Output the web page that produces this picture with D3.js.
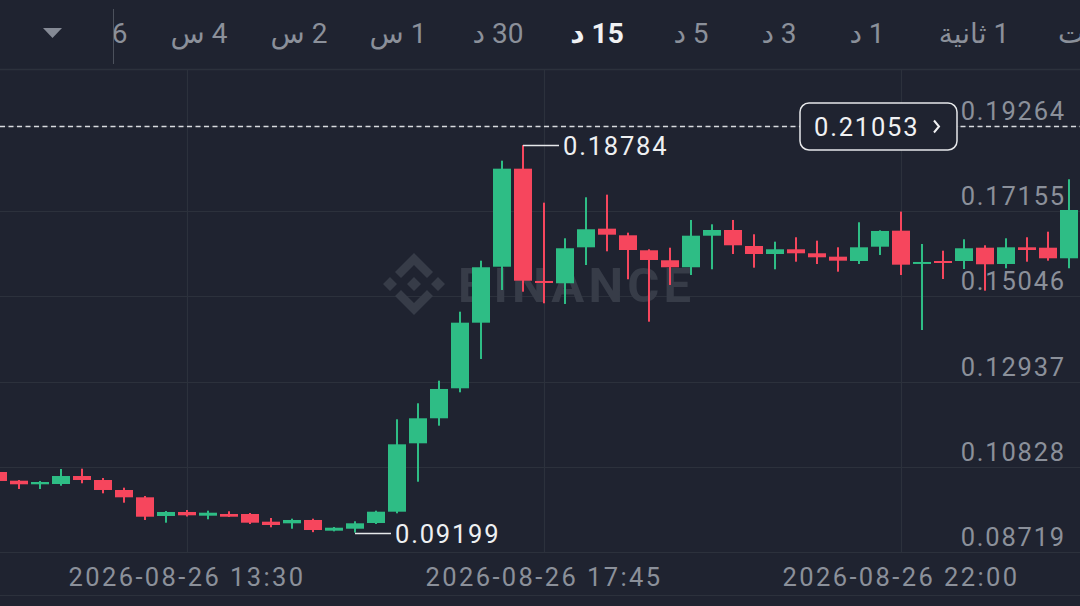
<!DOCTYPE html>
<html>
<head>
<meta charset="utf-8">
<script src="https://cdn.jsdelivr.net/npm/d3@7"></script>
<style>
  html, body { margin: 0; padding: 0; background: #1f2330; overflow: hidden; }
  #wrap { position: relative; width: 1080px; height: 606px; }
  #wrap svg { position: absolute; left: 0; top: 0; }
  #tabs { position: absolute; left: 114px; top: 0; width: 966px; height: 68px; overflow: hidden; }
  .tab { position: absolute; top: 16px; font: 400 28px Roboto, "DejaVu Sans", sans-serif;
         color: #8b909a; white-space: nowrap; line-height: 36px; }
  .tab.on { color: #f0f1f3; font-weight: 700; }
</style>
</head>
<body>
<div id="wrap"></div>
<script>
// 15 min candles, 2026-08-26 11:15 .. 2026-08-27 00:00
var times = [
  "2026-08-26 11:15","2026-08-26 11:30","2026-08-26 11:45","2026-08-26 12:00",
  "2026-08-26 12:15","2026-08-26 12:30","2026-08-26 12:45","2026-08-26 13:00",
  "2026-08-26 13:15","2026-08-26 13:30","2026-08-26 13:45","2026-08-26 14:00",
  "2026-08-26 14:15","2026-08-26 14:30","2026-08-26 14:45","2026-08-26 15:00",
  "2026-08-26 15:15","2026-08-26 15:30","2026-08-26 15:45","2026-08-26 16:00",
  "2026-08-26 16:15","2026-08-26 16:30","2026-08-26 16:45","2026-08-26 17:00",
  "2026-08-26 17:15","2026-08-26 17:30","2026-08-26 17:45","2026-08-26 18:00",
  "2026-08-26 18:15","2026-08-26 18:30","2026-08-26 18:45","2026-08-26 19:00",
  "2026-08-26 19:15","2026-08-26 19:30","2026-08-26 19:45","2026-08-26 20:00",
  "2026-08-26 20:15","2026-08-26 20:30","2026-08-26 20:45","2026-08-26 21:00",
  "2026-08-26 21:15","2026-08-26 21:30","2026-08-26 21:45","2026-08-26 22:00",
  "2026-08-26 22:15","2026-08-26 22:30","2026-08-26 22:45","2026-08-26 23:00",
  "2026-08-26 23:15","2026-08-26 23:30","2026-08-26 23:45","2026-08-27 00:00"
];
var open = [
  0.10698,0.10483,0.10394,0.10401,0.10599,0.10500,0.10253,0.10072,0.09610,0.09709,
  0.09617,0.09659,0.09659,0.09469,0.09429,0.09511,0.09246,0.09295,0.09436,0.09716,
  0.11408,0.12027,0.12769,0.14392,0.15777,0.18202,0.15424,0.15367,0.16257,0.16718,
  0.16554,0.16183,0.15936,0.15763,0.16544,0.16685,0.16289,0.16091,0.16208,0.16109,
  0.16025,0.15918,0.16272,0.16668,0.15857,0.15918,0.15918,0.16247,0.15844,0.16257,
  0.16247,0.15985
];
var high = [
  0.10748,0.10500,0.10476,0.10772,0.10780,0.10550,0.10310,0.10104,0.09733,0.09758,
  0.09741,0.09726,0.09684,0.09560,0.09543,0.09543,0.09337,0.09479,0.09741,0.12002,
  0.12398,0.12957,0.14664,0.15926,0.18400,0.18784,0.17361,0.16480,0.17494,0.17559,
  0.16619,0.16208,0.16247,0.16933,0.16826,0.16933,0.16579,0.16396,0.16505,0.16421,
  0.16257,0.16876,0.16678,0.17140,0.16339,0.16173,0.16455,0.16307,0.16480,0.16505,
  0.16643,0.17940
];
var low = [
  0.10401,0.10278,0.10278,0.10359,0.10419,0.10171,0.09939,0.09511,0.09444,0.09597,
  0.09528,0.09585,0.09412,0.09330,0.09295,0.09210,0.09230,0.09199,0.09412,0.09676,
  0.10458,0.11844,0.12670,0.13494,0.15201,0.15159,0.14872,0.14855,0.15819,0.16158,
  0.15466,0.14417,0.15325,0.15572,0.15713,0.16091,0.15753,0.15713,0.15901,0.15844,
  0.15654,0.15844,0.16067,0.15572,0.14211,0.15473,0.15720,0.15184,0.15738,0.15901,
  0.15926,0.15738
];
var close = [
  0.10476,0.10394,0.10451,0.10599,0.10500,0.10253,0.10072,0.09592,0.09709,0.09627,
  0.09691,0.09592,0.09444,0.09387,0.09511,0.09263,0.09320,0.09429,0.09716,0.11383,
  0.12027,0.12752,0.14392,0.15763,0.18202,0.15431,0.15374,0.16233,0.16703,0.16569,
  0.16190,0.15943,0.15763,0.16544,0.16685,0.16307,0.16091,0.16208,0.16109,0.16010,
  0.15926,0.16257,0.16661,0.15827,0.15894,0.15881,0.16233,0.15837,0.16257,0.16190,
  0.15985,0.17180
];
var yTicks = [0.19264, 0.17155, 0.15046, 0.12937, 0.10828, 0.08719];
var xTicks = ["2026-08-26 13:30", "2026-08-26 17:45", "2026-08-26 22:00"];
var lastPrice = 0.21053;
var tabs = ["6 س", "4 س", "2 س", "1 س", "30 د", "15 د", "5 د", "3 د", "1 د", "1 ثانية", "الوقت"];
var activeTab = "15 د";

// layout (tab centres in page px, last one is left-anchored)
var tabX = [99, 199, 299, 398, 498, 597, 691, 779, 867, 974, 1058];

var W = 1080, H = 606;
var bg = "#1f2330", grid = "#2c313c", up = "#2ebd85", down = "#f6465d";
var axisFont = "Roboto, 'DejaVu Sans', sans-serif";

var parse = d3.timeParse("%Y-%m-%d %H:%M");
var candles = times.map(function(t, i) {
  return { t: parse(t), o: open[i], h: high[i], l: low[i], c: close[i] };
});

var x = d3.scaleTime()
  .domain([parse(xTicks[0]), parse(xTicks[2])])
  .range([187, 901]);
var y = d3.scaleLinear()
  .domain([0.08719, 0.17155])
  .range([552, 211]);

var wrap = d3.select("#wrap");
var svg = wrap.append("svg").attr("width", W).attr("height", H);

svg.append("rect").attr("width", W).attr("height", H).attr("fill", bg);

// top bar separator
svg.append("line").attr("x1", 0).attr("x2", W).attr("y1", 69.5).attr("y2", 69.5)
  .attr("stroke", "#2c313c").attr("stroke-width", 1.5);
svg.append("line").attr("x1", 113.5).attr("x2", 113.5).attr("y1", 9).attr("y2", 64)
  .attr("stroke", "#4c515c").attr("stroke-width", 1);
svg.append("path").attr("d", "M43,28 L62,28 L52.5,38 Z").attr("fill", "#858a95");

// grid
svg.append("g").selectAll("line").data(yTicks).enter().append("line")
  .attr("x1", 0).attr("x2", W)
  .attr("y1", function(d) { return Math.round(y(d)) + 0.5; })
  .attr("y2", function(d) { return Math.round(y(d)) + 0.5; })
  .attr("stroke", grid).attr("stroke-width", 1.2);
svg.append("g").selectAll("line").data(xTicks).enter().append("line")
  .attr("x1", function(d) { return Math.round(x(parse(d))) + 0.5; })
  .attr("x2", function(d) { return Math.round(x(parse(d))) + 0.5; })
  .attr("y1", 70).attr("y2", 552)
  .attr("stroke", grid).attr("stroke-width", 1.2);
svg.append("line").attr("x1", 0).attr("x2", W).attr("y1", 595.5).attr("y2", 595.5)
  .attr("stroke", grid).attr("stroke-width", 1.2);

// watermark
var wm = svg.append("g").attr("fill", "#373c48");
var cx = 414, cy = 284;
wm.append("path").attr("d",
  "M" + cx + "," + (cy - 31) + " L" + (cx + 19) + "," + (cy - 12) + " L" + (cx + 13) + "," + (cy - 6) +
  " L" + cx + "," + (cy - 19) + " L" + (cx - 13) + "," + (cy - 6) + " L" + (cx - 19) + "," + (cy - 12) + " Z" +
  "M" + cx + "," + (cy + 31) + " L" + (cx + 19) + "," + (cy + 12) + " L" + (cx + 13) + "," + (cy + 6) +
  " L" + cx + "," + (cy + 19) + " L" + (cx - 13) + "," + (cy + 6) + " L" + (cx - 19) + "," + (cy + 12) + " Z" +
  "M" + cx + "," + (cy - 7) + " L" + (cx + 7) + "," + cy + " L" + cx + "," + (cy + 7) + " L" + (cx - 7) + "," + cy + " Z" +
  "M" + (cx - 24) + "," + (cy - 7) + " L" + (cx - 17) + "," + cy + " L" + (cx - 24) + "," + (cy + 7) + " L" + (cx - 31) + "," + cy + " Z" +
  "M" + (cx + 24) + "," + (cy - 7) + " L" + (cx + 31) + "," + cy + " L" + (cx + 24) + "," + (cy + 7) + " L" + (cx + 17) + "," + cy + " Z");
wm.append("text").attr("x", 458).attr("y", 302)
  .attr("font-family", axisFont).attr("font-weight", 700).attr("font-size", 49)
  .attr("letter-spacing", 4).attr("textLength", 237)
  .text("BINANCE");

// candles
var g = svg.append("g");
var cg = g.selectAll("g").data(candles).enter().append("g")
  .attr("fill", function(d) { return d.c >= d.o ? up : down; });
cg.append("rect")
  .attr("x", function(d) { return x(d.t) - 1; })
  .attr("width", 2)
  .attr("y", function(d) { return y(d.h); })
  .attr("height", function(d) { return y(d.l) - y(d.h); });
cg.append("rect")
  .attr("x", function(d) { return x(d.t) - 9; })
  .attr("width", 18)
  .attr("y", function(d) { return y(Math.max(d.o, d.c)); })
  .attr("height", function(d) { return Math.max(2, Math.abs(y(d.o) - y(d.c))); });

// y labels
svg.append("g").selectAll("text").data(yTicks).enter().append("text")
  .attr("x", 1066).attr("y", function(d) { return y(d) - 6; })
  .attr("text-anchor", "end")
  .attr("font-family", axisFont).attr("font-size", 25.5).attr("letter-spacing", 1.8)
  .attr("fill", "#8b909a")
  .text(function(d) { return d.toFixed(5); });

// x labels
svg.append("g").selectAll("text").data(xTicks).enter().append("text")
  .attr("x", function(d) { return x(parse(d)); }).attr("y", 586)
  .attr("text-anchor", "middle")
  .attr("font-family", axisFont).attr("font-size", 25.5).attr("letter-spacing", 2.4)
  .attr("fill", "#8b909a")
  .text(function(d) { return d; });

// high / low markers
var hiIdx = d3.maxIndex(high), loIdx = d3.minIndex(low);
function marker(d, v) {
  var px = x(d.t), py = Math.round(y(v)) + 0.5;
  svg.append("line").attr("x1", px).attr("x2", px + 36).attr("y1", py).attr("y2", py)
    .attr("stroke", "#e6e8ea").attr("stroke-width", 1.5);
  svg.append("text").attr("x", px + 40).attr("y", py + 9)
    .attr("font-family", axisFont).attr("font-size", 25.5).attr("letter-spacing", 1.8)
    .attr("fill", "#eef0f2").text(v.toFixed(5));
}
marker(candles[hiIdx], high[hiIdx]);
marker(candles[loIdx], low[loIdx]);

// last price line (pinned at the top of the price area)
var lpY = Math.max(y(lastPrice), Math.round(y(yTicks[0]))) + 0.5;
svg.append("line").attr("x1", 0).attr("x2", W).attr("y1", lpY).attr("y2", lpY)
  .attr("stroke", "#d8dade").attr("stroke-width", 1.3).attr("stroke-dasharray", "5,3.5");
svg.append("rect").attr("x", 800).attr("y", lpY - 23.5).attr("width", 157).attr("height", 47)
  .attr("rx", 9).attr("fill", bg).attr("stroke", "#e6e8ea").attr("stroke-width", 1.5);
svg.append("text").attr("x", 814).attr("y", lpY + 9)
  .attr("font-family", axisFont).attr("font-size", 25.5).attr("letter-spacing", 1.8)
  .attr("fill", "#f0f1f3").text(lastPrice.toFixed(5));
svg.append("path").attr("d", "M934," + (lpY - 6) + " L939," + lpY + " L934," + (lpY + 6))
  .attr("fill", "none").attr("stroke", "#f0f1f3").attr("stroke-width", 2);

// interval tabs
var strip = wrap.append("div").attr("id", "tabs");
strip.selectAll("span").data(tabs).enter().append("span")
  .attr("class", function(d) { return d === activeTab ? "tab on" : "tab"; })
  .attr("dir", "rtl")
  .style("left", function(d, i) { return (tabX[i] - 114) + "px"; })
  .style("transform", function(d, i) { return i === tabs.length - 1 ? "none" : "translateX(-50%)"; })
  .text(function(d) { return d; });
</script>
</body>
</html>
